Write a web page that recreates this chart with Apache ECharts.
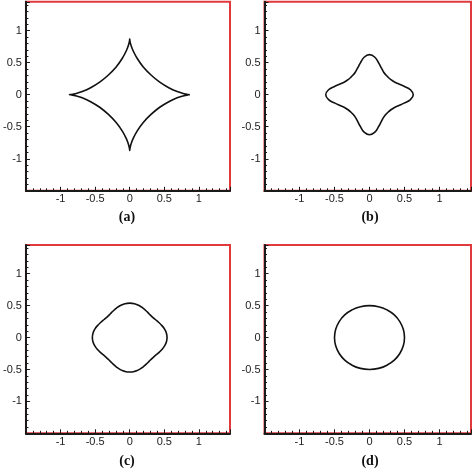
<!DOCTYPE html>
<html><head><meta charset="utf-8">
<script src="https://cdn.jsdelivr.net/npm/echarts@6.0.0/dist/echarts.min.js"></script>
<style>html,body{margin:0;padding:0;background:#fff}#c{width:474px;height:471px}</style>
</head><body><div id="c"></div>
<script>
// axis settings
const axisMin = -1.5, axisMax = 1.45, tickStep = 0.5;
const panelLabels = ['(a)', '(b)', '(c)', '(d)'];

// (a) astroid-like star
const aX = [0.870,0.848,0.784,0.686,0.565,0.434,0.308,0.196,0.109,0.049,0.015,0.002,0.000,
  -0.002,-0.015,-0.049,-0.109,-0.196,-0.308,-0.434,-0.565,-0.686,-0.784,-0.848,-0.870,
  -0.848,-0.784,-0.686,-0.565,-0.434,-0.308,-0.196,-0.109,-0.049,-0.015,-0.002,0.000,
  0.002,0.015,0.049,0.109,0.196,0.308,0.434,0.565,0.686,0.784,0.848,0.870];
const aY = [0.000,0.002,0.015,0.049,0.109,0.196,0.308,0.434,0.565,0.686,0.784,0.848,0.870,
  0.848,0.784,0.686,0.565,0.434,0.308,0.196,0.109,0.049,0.015,0.002,0.000,
  -0.002,-0.015,-0.049,-0.109,-0.196,-0.308,-0.434,-0.565,-0.686,-0.784,-0.848,-0.870,
  -0.848,-0.784,-0.686,-0.565,-0.434,-0.308,-0.196,-0.109,-0.049,-0.015,-0.002,0.000];

// (b) rounded four-pointed star
const bX = [0.585,
  0.625,0.585,0.493,0.413,0.351,0.306,0.269,0.235,0.203,0.171,0.132,0.077,0.000,
  -0.077,-0.132,-0.171,-0.203,-0.235,-0.269,-0.306,-0.351,-0.413,-0.493,-0.585,-0.625,
  -0.585,-0.493,-0.413,-0.351,-0.306,-0.269,-0.235,-0.203,-0.171,-0.132,-0.077,0.000,
  0.077,0.132,0.171,0.203,0.235,0.269,0.306,0.351,0.413,0.493,0.585,0.625,
  0.585];
const bY = [-0.077,
  0.000,0.077,0.132,0.171,0.203,0.235,0.269,0.306,0.351,0.413,0.493,0.585,0.625,
  0.585,0.493,0.413,0.351,0.306,0.269,0.235,0.203,0.171,0.132,0.077,0.000,
  -0.077,-0.132,-0.171,-0.203,-0.235,-0.269,-0.306,-0.351,-0.413,-0.493,-0.585,-0.625,
  -0.585,-0.493,-0.413,-0.351,-0.306,-0.269,-0.235,-0.203,-0.171,-0.132,-0.077,0.000,
  0.077];

// (c) rounded diamond
const cX = [0.530,
  0.540,0.530,0.502,0.462,0.416,0.369,0.325,0.283,0.240,0.191,0.135,0.070,0.000,
  -0.070,-0.135,-0.191,-0.240,-0.283,-0.325,-0.369,-0.416,-0.462,-0.502,-0.530,-0.540,
  -0.530,-0.502,-0.462,-0.416,-0.369,-0.325,-0.283,-0.240,-0.191,-0.135,-0.070,0.000,
  0.070,0.135,0.191,0.240,0.283,0.325,0.369,0.416,0.462,0.502,0.530,0.540,
  0.530];
const cY = [-0.070,
  0.000,0.070,0.135,0.191,0.240,0.283,0.325,0.369,0.416,0.462,0.502,0.530,0.540,
  0.530,0.502,0.462,0.416,0.369,0.325,0.283,0.240,0.191,0.135,0.070,0.000,
  -0.070,-0.135,-0.191,-0.240,-0.283,-0.325,-0.369,-0.416,-0.462,-0.502,-0.530,-0.540,
  -0.530,-0.502,-0.462,-0.416,-0.369,-0.325,-0.283,-0.240,-0.191,-0.135,-0.070,0.000,
  0.070];

// (d) circle
const dX = [0.483,
  0.500,0.483,0.433,0.354,0.250,0.129,0.000,
  -0.129,-0.250,-0.354,-0.433,-0.483,-0.500,
  -0.483,-0.433,-0.354,-0.250,-0.129,0.000,
  0.129,0.250,0.354,0.433,0.483,0.500,
  0.483];
const dY = [-0.129,
  0.000,0.129,0.250,0.354,0.433,0.483,0.500,
  0.483,0.433,0.354,0.250,0.129,0.000,
  -0.129,-0.250,-0.354,-0.433,-0.483,-0.500,
  -0.483,-0.433,-0.354,-0.250,-0.129,0.000,
  0.129];

const shapes = [[aX, aY, 0.3], [bX, bY, 0.4], [cX, cY, 0.5], [dX, dY, 0.5]];
const grids = [
  {left: 22, top: 1.8, width: 208, height: 189},
  {left: 264.5, top: 1.8, width: 208, height: 189},
  {left: 22, top: 245, width: 208, height: 188.3},
  {left: 264.5, top: 245, width: 208, height: 188.3}
];
const labelPos = [[127, 217], [370, 217], [127, 461], [370, 461]];

const RED = '#e0393e';
const fmt = v => (Math.abs(v) > 1.01 ? '' : String(+v.toFixed(2)));
function axis(i, isX) {
  return {
    type: 'value', gridIndex: i, min: axisMin, max: axisMax, interval: tickStep, z: 5,
    axisLine: {show: true, onZero: false, lineStyle: {color: '#1a1a1a', width: 2}},
    axisTick: {show: true, inside: true, length: 4, lineStyle: {color: '#1a1a1a', width: 1}},
    minorTick: {show: true, splitNumber: 5, length: 2.5, lineStyle: {color: '#1a1a1a', width: 1}},
    splitLine: {show: false},
    axisLabel: {show: true, margin: isX ? 3 : 4, color: '#222', fontSize: 11,
      fontFamily: 'Liberation Sans, Arial, sans-serif', formatter: fmt, showMinLabel: true, showMaxLabel: true}
  };
}

const chart = echarts.init(document.getElementById('c'), null, {renderer: 'canvas'});
chart.setOption({
  animation: false,
  backgroundColor: '#fff',
  grid: grids.map(g => Object.assign({show: true, borderColor: RED, borderWidth: 2, backgroundColor: 'transparent'}, g)),
  xAxis: grids.map((g, i) => axis(i, true)),
  yAxis: grids.map((g, i) => axis(i, false)),
  series: shapes.map((s, i) => ({
    type: 'line', xAxisIndex: i, yAxisIndex: i, showSymbol: false, smooth: s[2],
    lineStyle: {color: '#111', width: 1.6}, z: 3,
    data: s[0].map((x, k) => [x, s[1][k]])
  })),
  graphic: panelLabels.map((t, i) => ({
    type: 'text', x: labelPos[i][0], y: labelPos[i][1],
    style: {text: t, fill: '#111', font: 'bold 14px "Liberation Serif", "Times New Roman", serif',
      textAlign: 'center', textVerticalAlign: 'middle'}
  }))
});
</script>
</body></html>
